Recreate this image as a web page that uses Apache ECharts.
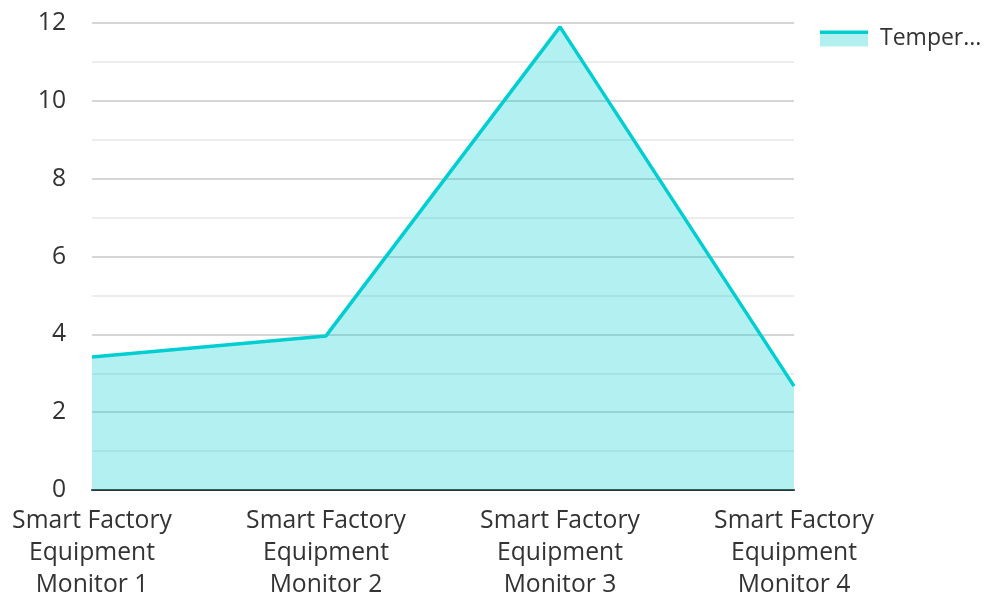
<!DOCTYPE html>
<html>
<head>
<meta charset="utf-8">
<script src="https://cdn.jsdelivr.net/npm/echarts@6/dist/echarts.min.js"></script>
<style>
  html, body { margin: 0; padding: 0; background: #fff; }
  #chart { width: 984px; height: 594px; }
</style>
</head>
<body>
<div id="chart"></div>
<script>
const categories = [
  'Smart Factory Equipment Monitor 1',
  'Smart Factory Equipment Monitor 2',
  'Smart Factory Equipment Monitor 3',
  'Smart Factory Equipment Monitor 4'
];
const seriesName = 'Temperature';
const temperatureValues = [3.42, 3.96, 11.9, 2.67];
const yTicks = { min: 0, max: 12, interval: 2 };

const font = '"Open Sans", "Noto Sans", sans-serif';
const lineColor = '#00CED1';
const fillColor = 'rgba(0,206,209,0.3)';

const chart = echarts.init(document.getElementById('chart'));
chart.setOption({
  animation: false,
  legend: {
    left: 815,
    top: 22,
    icon: 'rect',
    itemWidth: 48,
    itemHeight: 16,
    itemGap: 10,
    itemStyle: {
      color: new echarts.graphic.LinearGradient(0, 0, 0, 1, [
        { offset: 0, color: lineColor },
        { offset: 0.25, color: lineColor },
        { offset: 0.25, color: '#b2f0f0' },
        { offset: 1, color: '#b2f0f0' }
      ])
    },
    textStyle: {
      fontFamily: font, fontSize: 23, color: '#333',
      width: 104, overflow: 'truncate', padding: [0, 0, 0, 7]
    },
    data: [seriesName]
  },
  grid: { left: 92, right: 190, top: 23, bottom: 104, containLabel: false, outerBoundsMode: 'none' },
  xAxis: {
    type: 'category',
    boundaryGap: false,
    data: categories,
    axisLine: { lineStyle: { color: '#333', width: 2 } },
    axisTick: { show: false },
    axisLabel: {
      fontFamily: font,
      fontSize: 24.7,
      color: '#333',
      lineHeight: 32,
      margin: 15,
      interval: 0,
      formatter: v => v.replace(' Equipment ', '\nEquipment\n')
    }
  },
  yAxis: {
    type: 'value',
    min: yTicks.min,
    max: yTicks.max,
    interval: yTicks.interval,
    axisLine: { show: false },
    axisTick: { show: false },
    axisLabel: { fontFamily: font, fontSize: 24.7, color: '#333', margin: 26 },
    splitLine: { lineStyle: { color: '#c8c8c8', width: 1.5 } },
    minorTick: { show: false, splitNumber: 2 },
    minorSplitLine: { show: true, lineStyle: { color: '#e8e8e8', width: 1.5 } }
  },
  series: [{
    name: seriesName,
    type: 'line',
    data: temperatureValues,
    showSymbol: false,
    symbol: 'none',
    lineStyle: { color: lineColor, width: 3.5 },
    itemStyle: { color: lineColor },
    areaStyle: { color: fillColor, opacity: 1 }
  }]
});
</script>
</body>
</html>
